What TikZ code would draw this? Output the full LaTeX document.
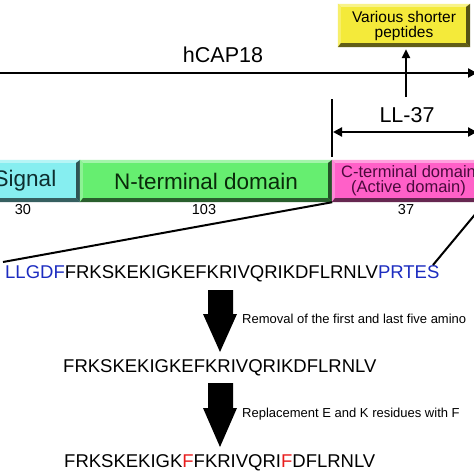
\documentclass[tikz,border=0pt]{standalone}
\usepackage{fontspec}
\setmainfont{Liberation Sans}
\usetikzlibrary{arrows.meta,calc}
\definecolor{cyanbox}{HTML}{86EEF0}
\definecolor{greenbox}{HTML}{66EE70}
\definecolor{pinkbox}{HTML}{FF60C8}
\definecolor{yellowbox}{HTML}{F4EA3A}
\definecolor{cyantext}{HTML}{0E2E30}
\definecolor{greentext}{HTML}{0A2A0A}
\definecolor{pinktext}{HTML}{4A0A3C}
\definecolor{seqblue}{HTML}{1C2CC0}
\definecolor{seqred}{HTML}{E81C1C}
\newcommand\myfs[2]{\fontsize{#1}{#2}\selectfont}
\newcommand\bevelnode[2]{%
  \fill[#2!60!white] (#1.north west) -- (#1.north east) -- ([shift={(-3,3)}]#1.north east) -- ([shift={(3,3)}]#1.north west) -- cycle;
  \fill[#2!75!white] (#1.north west) -- (#1.south west) -- ([shift={(3,-4)}]#1.south west) -- ([shift={(3,3)}]#1.north west) -- cycle;
  \fill[#2!40!black] (#1.south west) -- (#1.south east) -- ([shift={(-4,-4)}]#1.south east) -- ([shift={(3,-4)}]#1.south west) -- cycle;
  \fill[#2!35!black] (#1.north east) -- (#1.south east) -- ([shift={(-4,-4)}]#1.south east) -- ([shift={(-4,3)}]#1.north east) -- cycle;
}
\begin{document}
\begin{tikzpicture}[x=1pt,y=-1pt,
  txt/.style={inner sep=0pt},
  dom/.style={rectangle, inner sep=0pt, minimum height=42pt},
  thinline/.style={line width=2pt, black},
  fatarrow/.style={fill=black},
  tipT/.style={-{Triangle[length=9pt,width=9pt]}},
  ]
\clip (0,0) rectangle (474,474);
\fill[white] (0,0) rectangle (474,474);

% top: hCAP18 arrow
\coordinate (h0) at (-5,73);
\coordinate (h1) at (477,73);
\draw[line width=2.4pt, tipT] (h0) -- (h1);
\node[txt, anchor=base, font=\myfs{21.5}{24}] (hcap) at (223,62) {hCAP18};

% yellow box
\node[dom, fill=yellowbox, minimum width=132pt, minimum height=43pt, align=center, text=black, font=\myfs{15.5}{15}] (various) at (404,25.5) {Various shorter\\peptides};
\bevelnode{various}{yellowbox}
\coordinate (up0) at (406,97);
\draw[line width=2.2pt, -{Triangle[length=9pt,width=8pt]}] (up0) -- (up0 |- various.south) [shorten >=2pt];

% LL-37
\coordinate (b0) at (332,99);
\coordinate (b1) at (332,157);
\draw[line width=2.4pt] (b0) -- (b1);
\node[txt, anchor=base, font=\myfs{21.5}{24}] (ll) at (407,122) {LL-37};
\coordinate (d0) at (333,132);
\coordinate (d1) at (477,132);
\draw[line width=2.2pt, {Triangle[length=9pt,width=9pt]}-{Triangle[length=9pt,width=9pt]}] (d0) -- (d1);

% domain boxes
\node[dom, fill=cyanbox, minimum width=110pt, text=cyantext, font=\myfs{22.5}{24}] (signal) at (25,181) {Signal};
\node[dom, fill=greenbox, minimum width=252pt, text=greentext, font=\myfs{22.5}{24}] (nterm) at (206,181) {N-terminal domain};
\node[dom, fill=pinkbox, minimum width=153pt, align=center, text=pinktext, font=\myfs{16.5}{15}] (cterm) at (408.5,181) {C-terminal domain\\(Active domain)};
\bevelnode{signal}{cyanbox}
\bevelnode{nterm}{greenbox}
\bevelnode{cterm}{pinkbox}

% lengths
\node[txt, anchor=base, font=\myfs{14.5}{16}] (n30) at (23,214) {30};
\node[txt, anchor=base, font=\myfs{14.5}{16}] (n103) at (204,214) {103};
\node[txt, anchor=base, font=\myfs{14.5}{16}] (n37) at (406,214) {37};

% sequences
\node[txt, anchor=base west, font=\myfs{18.5}{20}] (seq1) at (5,278) {{\color{seqblue}LLGDF}FRKSKEKIGKEFKRIVQRIKDFLRNLV{\color{seqblue}PRTES}};
\coordinate (l1) at (3,262);
\coordinate (r1) at (433,265);
\draw[thinline] (nterm.south east) -- (l1);
\draw[thinline] (cterm.south east) -- (r1);

\fill[fatarrow] (208,290) -- (233,290) -- (233,314) -- (237,314) -- (220,352) -- (203,314) -- (208,314) -- cycle;
\node[txt, anchor=base west, font=\myfs{13}{15}] (lab1) at (242,323) {Removal of the first and last five amino};

\node[txt, anchor=base west, font=\myfs{18.5}{20}] (seq2) at (63,372) {FRKSKEKIGKEFKRIVQRIKDFLRNLV};

\fill[fatarrow] (208,383) -- (233,383) -- (233,408) -- (237,408) -- (220,447) -- (203,408) -- (208,408) -- cycle;
\node[txt, anchor=base west, font=\myfs{13}{15}] (lab2) at (242,417) {Replacement E and K residues with F};

\node[txt, anchor=base west, font=\myfs{18.5}{20}] (seq3) at (64,467) {FRKSKEKIGK{\color{seqred}F}FKRIVQRI{\color{seqred}F}DFLRNLV};
\end{tikzpicture}
\end{document}
